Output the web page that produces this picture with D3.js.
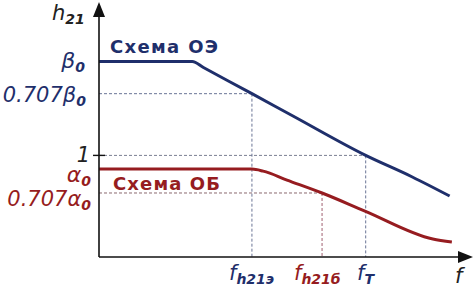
<!DOCTYPE html>
<html>
<head>
<meta charset="utf-8">
<script src="https://cdn.jsdelivr.net/npm/d3@7"></script>
<style>
  body { margin: 0; background: #fff; }
  svg { display: block; }
  text { font-family: "DejaVu Sans", Verdana, sans-serif; }
</style>
</head>
<body>
<div id="chart"></div>
<script>
// schematic frequency response, arbitrary units (0..100 on both axes)
const blueX = [0, 25, 28, 41, 52, 71.5, 84, 94];
const blueY = [77, 77, 74.6, 64.3, 55.5, 40, 31.5, 24];
const redX = [0, 41, 44, 50.4, 59.8, 71.3, 89.5, 94.6];
const redY = [34.6, 34.6, 33.8, 30.3, 25.2, 18.1, 7.1, 5.9];

// levels on the h21 axis and marked frequencies
const beta0 = 77, beta07 = 64.3, one = 40, alpha0 = 34.6, alpha07 = 25.2;
const fE = 41, fB = 59.8, fT = 71.5;

const navy = "#1f2f6b", red = "#961c20";

const width = 474, height = 289;
const x0 = 99, y0 = 257;

const x = d3.scaleLinear().domain([0, 100]).range([x0, x0 + 373]);
const y = d3.scaleLinear().domain([0, 100]).range([y0, y0 - 254]);

const svg = d3.select("#chart").append("svg")
  .attr("width", width).attr("height", height);

// dashed guides
function hGuide(level, fx, col) {
  svg.append("line")
    .attr("x1", x(0)).attr("x2", x(fx))
    .attr("y1", y(level)).attr("y2", y(level))
    .attr("stroke", col).attr("stroke-width", 1).attr("stroke-dasharray", "3,2");
}
function vGuide(fx, level, col) {
  svg.append("line")
    .attr("x1", x(fx)).attr("x2", x(fx))
    .attr("y1", y(level)).attr("y2", y(0))
    .attr("stroke", col).attr("stroke-width", 1).attr("stroke-dasharray", "3,2");
}
hGuide(beta07, fE, "#6a7496");
hGuide(one, fT, "#7a7f92");
hGuide(alpha07, fB, "#8a6a70");
vGuide(fE, beta07, "#6a7496");
vGuide(fB, alpha07, "#a06070");
vGuide(fT, one, "#6a7496");

// curves
const line = d3.line().x(d => x(d[0])).y(d => y(d[1])).curve(d3.curveMonotoneX);
svg.append("path")
  .attr("d", line(d3.zip(blueX, blueY)))
  .attr("fill", "none").attr("stroke", navy).attr("stroke-width", 3);
svg.append("path")
  .attr("d", line(d3.zip(redX, redY)))
  .attr("fill", "none").attr("stroke", red).attr("stroke-width", 3);

// axes with arrows
svg.append("line").attr("x1", x0).attr("x2", x0).attr("y1", y0).attr("y2", 12)
  .attr("stroke", "#111").attr("stroke-width", 1.6);
svg.append("path").attr("d", `M${x0},2 L${x0 - 6},17 L${x0 + 6},17 Z`).attr("fill", "#111");
svg.append("line").attr("x1", x0).attr("x2", 462).attr("y1", y0).attr("y2", y0)
  .attr("stroke", "#111").attr("stroke-width", 1.6);
svg.append("path").attr("d", `M473,${y0} L458,${y0 - 6} L458,${y0 + 6} Z`).attr("fill", "#111");
// tick at 1
svg.append("line").attr("x1", x0 - 6).attr("x2", x0 + 6).attr("y1", y(one)).attr("y2", y(one))
  .attr("stroke", "#111").attr("stroke-width", 1.4);

// labels with subscripts
function label(tx, ty, main, sub, col, anchor, size) {
  const t = svg.append("text").attr("x", tx).attr("y", ty)
    .attr("fill", col).attr("text-anchor", anchor || "start")
    .attr("font-style", "italic").attr("font-size", size || 21);
  t.append("tspan").text(main);
  if (sub) t.append("tspan").attr("dy", 4).attr("font-size", 14).attr("font-weight", "bold").text(sub);
  return t;
}
label(52, 20, "h", "21", "#222");
label(85, 68, "β", "0", navy, "end", 22);
label(86, 102, "0.707β", "0", navy, "end", 21);
label(90, 162, "1", null, "#222", "end", 21);
label(91, 182, "α", "0", red, "end", 22);
label(91, 206, "0.707α", "0", red, "end", 21);

label(229, 280, "f", "h21э", navy);
label(294, 280, "f", "h21б", red);
label(357, 280, "f", "T", navy);
label(455, 283, "f", null, "#222");

// series names
svg.append("text").attr("x", 110).attr("y", 53).attr("fill", navy)
  .attr("font-weight", "bold").attr("font-size", 18).attr("textLength", 108).text("Схема ОЭ");
svg.append("text").attr("x", 113).attr("y", 190).attr("fill", red)
  .attr("font-weight", "bold").attr("font-size", 18).attr("textLength", 107).text("Схема ОБ");
</script>
</body>
</html>
